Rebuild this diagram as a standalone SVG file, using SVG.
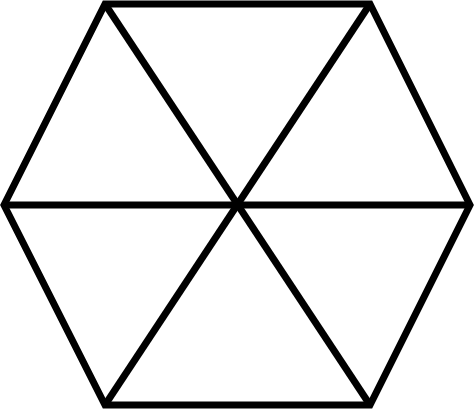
<svg xmlns="http://www.w3.org/2000/svg" width="474" height="409" viewBox="0 0 474 409">
<style>.s{fill:none;stroke:#000;stroke-width:7;stroke-linejoin:miter;stroke-miterlimit:10}</style>
<rect width="474" height="409" fill="#fff"/>
<g id="hexagon"><polygon class="s" points="105,4 370,4 470,205 370,405 105,405 4,205"/></g>
<g id="connectors">
<line class="s" x1="105" y1="4" x2="370" y2="405"/>
<line class="s" x1="370" y1="4" x2="105" y2="405"/>
<line class="s" x1="4" y1="205" x2="470" y2="205"/>
</g>
</svg>
